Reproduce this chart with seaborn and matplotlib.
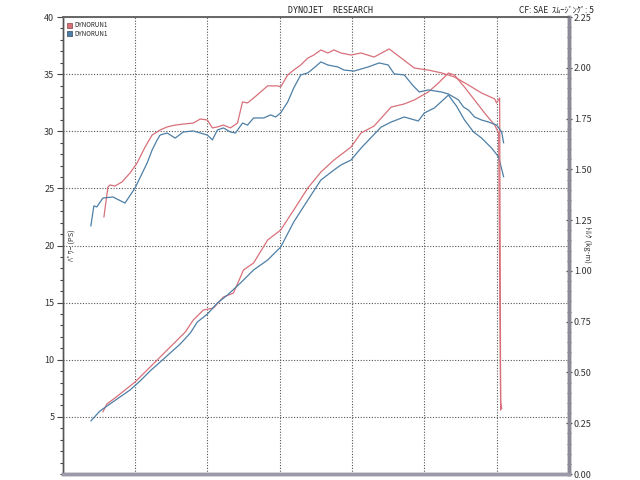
import numpy as np
import pandas as pd
import seaborn as sns
import matplotlib.pyplot as plt
from matplotlib.patches import Patch
from matplotlib.ticker import MultipleLocator

sns.set_style("white")
plt.rcParams['font.family'] = ['Noto Sans CJK JP', 'DejaVu Sans']

# run 1 (red) and run 2 (blue), engine speed in rpm
red_pw_rpm = [3111, 3222, 3444, 3722, 4000, 4278, 4556, 4833, 5111, 5389, 5611, 5889,
              6167, 6444, 6722, 7000, 7278, 7667, 8028, 8389, 8778, 9139, 9500, 9972,
              10250, 10611, 11083, 11444, 11722, 12111, 12389, 12667, 12833, 13111,
              13389, 13667, 13944, 14056, 14111]
red_pw = [5.43, 6.13, 6.65, 7.35, 8.05, 8.93, 9.80, 10.68, 11.55, 12.43, 13.48, 14.35,
          14.53, 15.49, 15.84, 17.86, 18.47, 20.48, 21.36, 23.11, 25.03, 26.43, 27.48, 28.62,
          29.85, 30.46, 32.12, 32.39, 32.74, 33.44, 34.22, 35.10, 34.92, 33.87,
          32.74, 31.60, 30.55, 29.85, 5.6]

blue_pw_rpm = [2778, 3028, 3306, 3583, 3861, 4139, 4417, 4694, 4972, 5250, 5528, 5722,
               6000, 6278, 6556, 6917, 7278, 7667, 8028, 8389, 8778, 9139, 9500, 9694,
               9972, 10250, 10806, 11083, 11444, 11833, 12000, 12278, 12667, 12889,
               13111, 13361, 13583, 13861, 14056, 14194]
blue_pw = [4.64, 5.51, 6.13, 6.74, 7.35, 8.14, 9.02, 9.80, 10.59, 11.38, 12.34, 13.30,
           14.00, 14.97, 15.67, 16.72, 17.86, 18.73, 19.87, 22.06, 23.98, 25.73, 26.61, 27.05,
           27.48, 28.53, 30.37, 30.81, 31.25, 30.90, 31.60, 32.04, 33.17, 32.21,
           30.99, 29.94, 29.41, 28.53, 27.75, 26.0]

red_tq_rpm = [3139, 3250, 3306, 3444, 3639, 3861, 4056, 4278, 4472, 4694, 4889, 5111,
              5333, 5611, 5806, 6000, 6139, 6278, 6444, 6639, 6833, 6972, 7111, 7278,
              7472, 7667, 7944, 8028, 8222, 8389, 8583, 8778, 8944, 9139, 9333, 9500,
              9694, 9972, 10250, 10611, 11028, 11361, 11722, 12111, 12472, 12833,
              13222, 13583, 13944, 14000, 14083, 14111, 14139]
red_tq = [1.265, 1.413, 1.423, 1.418, 1.438, 1.482, 1.531, 1.610, 1.669, 1.694, 1.709, 1.718,
          1.723, 1.728, 1.748, 1.743, 1.704, 1.709, 1.718, 1.704, 1.728, 1.832, 1.827, 1.851,
          1.881, 1.911, 1.911, 1.906, 1.965, 1.989, 2.014, 2.048, 2.063, 2.088, 2.073, 2.088,
          2.073, 2.063, 2.073, 2.053, 2.093, 2.048, 1.999, 1.989, 1.975, 1.955,
          1.915, 1.876, 1.847, 1.827, 1.851, 0.36, 0.32]

blue_tq_rpm = [2778, 2861, 2944, 3111, 3389, 3722, 4000, 4333, 4472, 4611, 4694, 4889,
               5111, 5333, 5611, 5806, 6000, 6139, 6278, 6444, 6639, 6778, 6972, 7111,
               7278, 7556, 7750, 7889, 8028, 8222, 8389, 8583, 8778, 8944, 9139, 9333,
               9611, 9778, 10056, 10444, 10750, 11000, 11167, 11444, 11694, 11861,
               12111, 12472, 12667, 12944, 13083, 13222, 13389, 13583, 13778, 14000,
               14139, 14194]
blue_tq = [1.221, 1.320, 1.315, 1.359, 1.364, 1.334, 1.408, 1.531, 1.595, 1.645, 1.669, 1.679,
           1.654, 1.684, 1.689, 1.679, 1.669, 1.645, 1.694, 1.704, 1.684, 1.679, 1.728, 1.718,
           1.753, 1.753, 1.768, 1.758, 1.778, 1.832, 1.901, 1.965, 1.975, 1.999, 2.029, 2.014,
           2.004, 1.989, 1.984, 2.004, 2.024, 2.014, 1.970, 1.965, 1.911, 1.881,
           1.891, 1.881, 1.871, 1.842, 1.807, 1.792, 1.758, 1.743, 1.733, 1.718,
           1.684, 1.630]

run_names = ["DYNORUN1", "DYNORUN1"]
red = "#d8707a"
blue = "#4d7fa6"
grid_col = "#555555"

fig = plt.figure(figsize=(6.4, 4.8), dpi=100)
ax = fig.add_axes([0.098, 0.0125, 0.791, 0.952])
ax2 = ax.twinx()

ax.set_xlim(2000, 16000)
ax.set_ylim(0, 40)
ax2.set_ylim(0, 2.25)

sns.lineplot(x=red_pw_rpm, y=red_pw, color=red, lw=0.9, ax=ax, estimator=None)
sns.lineplot(x=blue_pw_rpm, y=blue_pw, color=blue, lw=0.9, ax=ax, estimator=None)
sns.lineplot(x=red_tq_rpm, y=red_tq, color=red, lw=0.9, ax=ax2, estimator=None)
sns.lineplot(x=blue_tq_rpm, y=blue_tq, color=blue, lw=0.9, ax=ax2, estimator=None)

# dotted grid
ax.xaxis.set_major_locator(MultipleLocator(2000))
ax.yaxis.set_major_locator(MultipleLocator(5))
ax.yaxis.set_minor_locator(MultipleLocator(1))
ax.grid(True, which="major", color=grid_col, ls=(0, (1, 1.5)), lw=0.8)
ax.set_axisbelow(True)
ax.tick_params(axis="x", which="both", bottom=False, labelbottom=False)
ax.tick_params(axis="y", which="major", direction="out", length=4, width=0.8,
               color="#444444", labelsize=6.5, pad=2, labelcolor="#333333")
ax.tick_params(axis="y", which="minor", direction="out", length=2.5, width=0.8, color="#444444")
ax.set_yticks([5, 10, 15, 20, 25, 30, 35, 40])

ax2.yaxis.set_major_locator(MultipleLocator(0.25))
ax2.yaxis.set_minor_locator(MultipleLocator(0.05))
ax2.tick_params(axis="y", which="major", direction="inout", length=5, width=0.9,
                color="#555555", labelsize=6.5, pad=1, labelcolor="#333333")
ax2.tick_params(axis="y", which="minor", direction="inout", length=3, width=0.7, color="#666666")
ax2.yaxis.set_major_formatter(plt.FuncFormatter(lambda v, p: f"{v:.2f}"))

for a in (ax, ax2):
    a.spines["left"].set_color("#555555")
    a.spines["left"].set_linewidth(1.0)
    a.spines["top"].set_color("#666666")
    a.spines["top"].set_linewidth(1.2)
    a.spines["bottom"].set_color("#9a9aa8")
    a.spines["bottom"].set_linewidth(2.5)
    a.spines["right"].set_color("#8a8a98")
    a.spines["right"].set_linewidth(2.5)

ax.set_ylabel("")
ax2.set_ylabel("")
fig.text(0.112, 0.49, "ﾊﾟﾜｰ (PS)", rotation=90, fontsize=5.5, color="#333333",
         ha="center", va="center")
fig.text(0.918, 0.49, "ﾄﾙｸ (kg-m)", rotation=270, fontsize=5.5, color="#333333",
         ha="center", va="center")

fig.text(0.516, 0.979, "DYNOJET  RESEARCH", fontsize=6, color="#222222",
         ha="center", va="center", family="DejaVu Sans Mono")
fig.text(0.87, 0.979, "CF: SAE  ｽﾑｰｼﾞﾝｸﾞ: 5", fontsize=6, color="#222222",
         ha="center", va="center")

handles = [Patch(facecolor=red, edgecolor="#884444", lw=0.5),
           Patch(facecolor=blue, edgecolor="#334466", lw=0.5)]
leg = ax.legend(handles, run_names, loc="upper left", bbox_to_anchor=(0.0, 1.0),
                fontsize=4.5, frameon=False, handlelength=0.8, handleheight=0.8,
                handletextpad=0.3, labelspacing=0.1, borderaxespad=0.3)

fig.savefig("out.png", dpi=100)
